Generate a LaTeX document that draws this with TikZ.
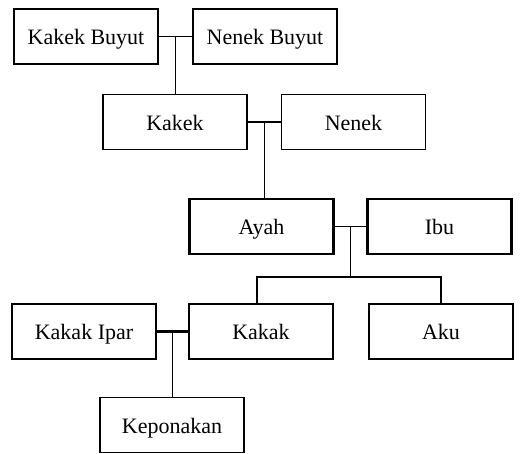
\documentclass[tikz,border=0pt]{standalone}
\usepackage{fontspec}
\setmainfont{Liberation Serif}
\usetikzlibrary{calc}
\tikzset{
	person/.style={draw, line width=1.5pt, minimum width=144pt, minimum height=55pt, inner sep=0pt, text height=16.5pt, text depth=0pt, font=\fontsize{22}{24}\selectfont},
	boldperson/.style={person, line width=2.2pt},
	link/.style={line width=1.4pt},
	boldlink/.style={line width=2.2pt}
}
\begin{document}
\begin{tikzpicture}[x=1pt,y=-1pt]
		\useasboundingbox (0,0) rectangle (520,454);

		% Generasi buyut
		\node[person] (kbuyut) at (86,36.5) {Kakek Buyut};
		\node[person] (nbuyut) at (265,36.5) {Nenek Buyut};

		% Generasi kakek
		\node[person] (kakek) at (175,122) {Kakek};
		\node[person] (nenek) at (353.5,122) {Nenek};

		% Orang tua
		\node[boldperson] (ayah) at (261.5,226.5) {Ayah};
		\node[boldperson] (ibu) at (439.5,226.5) {Ibu};

		% Anak
		\node[person] (kipar) at (84,331.5) {Kakak Ipar};
		\node[boldperson] (kakak) at (261,331.5) {Kakak};
		\node[boldperson] (aku) at (441,331.5) {Aku};
		\node[person] (keponakan) at (172,425) {Keponakan};

		% Garis
		\coordinate (m1) at ($(kbuyut.east)!0.5!(nbuyut.west)$);
		\coordinate (m2) at ($(kakek.east)!0.5!(nenek.west)$);
		\coordinate (m3) at ($(ayah.east)!0.5!(ibu.west)$);
		\coordinate (m4) at ($(kipar.east)!0.5!(kakak.west)$);
		\coordinate (cabang) at ($(m3)+(0,50.5)$);

		\draw[link] (kbuyut.east) -- (nbuyut.west);
		\draw[link] (m1) -- (m1 |- kakek.north);
		\draw[link] (kakek.east) -- (nenek.west);
		\draw[link] (m2) -- (m2 |- ayah.north);
		\draw[link] (ayah.east) -- (ibu.west);
		\draw[link] (m3) -- (cabang);
		\draw[link] ([xshift=-4pt]kakak.north) |- (cabang) -| (aku.north);
		\draw[boldlink] (kipar.east) -- (kakak.west);
		\draw[link] (m4) -- (m4 |- keponakan.north);
		\end{tikzpicture}
\end{document}
